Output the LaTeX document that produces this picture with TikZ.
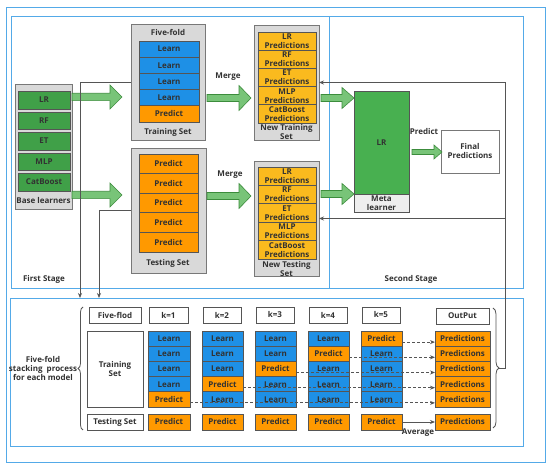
\documentclass[tikz,border=0pt]{standalone}
\usepackage{fontspec}
\setmainfont{Open Sans}
\usetikzlibrary{decorations.pathreplacing,arrows.meta}
\definecolor{frameblue}{RGB}{84,170,232}
\definecolor{lblue}{RGB}{30,144,230}
\definecolor{orng}{RGB}{255,153,0}
\definecolor{gold}{RGB}{250,186,30}
\definecolor{bgreen}{RGB}{64,160,72}
\definecolor{mgreen}{RGB}{72,176,80}
\definecolor{agreen}{RGB}{120,196,120}
\definecolor{agreenD}{RGB}{60,140,60}
\definecolor{boxgray}{RGB}{217,217,217}
\definecolor{edgegray}{RGB}{120,120,120}
\definecolor{metagray}{RGB}{238,238,238}
\definecolor{txt}{RGB}{50,50,50}
\definecolor{ln}{RGB}{85,85,85}
\newcommand\R[7]{\node[#1, minimum width={(#5)-(#3)}, minimum height={(#6)-(#4)}] (#2) at ({((#3)+(#5))/2},{((#4)+(#6))/2}) {#7};}
\newcommand\BA[6]{\filldraw[barrow] (#1,#3-#4) -- (#2-#6,#3-#4) -- (#2-#6,#3-#5) -- (#2,#3) -- (#2-#6,#3+#5) -- (#2-#6,#3+#4) -- (#1,#3+#4) -- cycle;}
\tikzset{
  every node/.style={font=\fontsize{8}{9}\selectfont\bfseries, text=txt, inner sep=0pt, outer sep=0pt, align=center},
  cell/.style={draw=ln, line width=0.7pt},
  learn/.style={cell, fill=lblue},
  pred/.style={cell, fill=orng},
  gpred/.style={cell, fill=gold},
  basecell/.style={cell, fill=bgreen},
  cont/.style={draw=edgegray, fill=boxgray, line width=0.9pt},
  wbox/.style={draw=ln, fill=white, line width=0.8pt},
  frame/.style={draw=frameblue, line width=1pt},
  barrow/.style={fill=agreen, draw=agreenD, line width=0.6pt},
  conn/.style={draw=ln, line width=0.9pt},
  conna/.style={conn, -{Stealth[length=5pt,width=4pt]}},
  dconn/.style={conn, dash pattern=on 3pt off 2pt, -{Stealth[length=5pt,width=4pt]}},
  brc/.style={draw=ln, line width=0.8pt, decorate, decoration={brace, amplitude=5pt}}
}
\begin{document}
\begin{tikzpicture}[x=1pt,y=-1pt]
\useasboundingbox[fill=white] (0,0) rectangle (550,470);
% frames
\draw[frame] (6,8) rectangle (545,463);
\draw[frame] (11,17) rectangle (523,289);
\draw[frame] (329,17) -- (329,289);
\draw[frame] (10,299) rectangle (523,447);
\node (fs) at (44,279) {First Stage};
\node (ss) at (411,279) {Second Stage};
% base learners
\R{cont}{base}{15}{84}{72}{209}{}
\R{basecell}{bLR}{18}{91}{70}{109}{LR}
\R{basecell}{bRF}{18}{112}{70}{129}{RF}
\R{basecell}{bET}{18}{132}{70}{150}{ET}
\R{basecell}{bMLP}{18}{153}{70}{170}{MLP}
\R{basecell}{bCB}{18}{173}{70}{191}{CatBoost}
\node (bl) at (43.5,201) {Base learners};
% training set
\R{cont}{trainbox}{131}{24}{205}{140}{}
\node (ff) at (168,32) {Five-fold};
\foreach \i in {1,...,4}{
  \pgfmathsetmacro\ya{41+(\i-1)*16.2}\pgfmathsetmacro\yb{41+\i*16.2}
  \R{learn}{tl\i}{139}{\ya}{199}{\yb}{Learn}
}
\R{pred}{tp}{139}{105.8}{199}{122}{Predict}
\node (trl) at (168,132) {Training Set};
% testing set
\R{cont}{testbox}{131}{148}{206}{273}{}
\foreach \i in {1,...,5}{
  \pgfmathsetmacro\ya{154+(\i-1)*19.6}\pgfmathsetmacro\yb{154+\i*19.6}
  \R{pred}{sp\i}{139}{\ya}{198}{\yb}{Predict}
}
\node (tsl) at (168,263) {Testing Set};
% new training set
\R{cont}{ntrain}{254}{25}{319}{140}{}
\foreach \i/\t in {1/LR,2/RF,3/ET,4/MLP,5/CatBoost}{
  \pgfmathsetmacro\ya{32+(\i-1)*18.2}\pgfmathsetmacro\yb{32+\i*18.2}
  \R{gpred}{np\i}{258}{\ya}{316}{\yb}{\t\\Predictions}
}
\node (ntl) at (286.5,132.5) {New Training\\Set};
% new testing set
\R{cont}{ntest}{254}{161}{319}{276}{}
\foreach \i/\t in {1/LR,2/RF,3/ET,4/MLP,5/CatBoost}{
  \pgfmathsetmacro\ya{167+(\i-1)*18.4}\pgfmathsetmacro\yb{167+\i*18.4}
  \R{gpred}{nq\i}{258}{\ya}{316}{\yb}{\t\\Predictions}
}
\node (nsl) at (286.5,269) {New Testing\\Set};
% meta learner
\R{cell, fill=metagray}{meta}{354}{91}{409}{212}{}
\R{cell, fill=mgreen}{metag}{354}{91}{409}{194}{LR}
\node (ml) at (381.5,203) {Meta\\learner};
\R{wbox, draw=edgegray}{final}{441}{130}{499}{173}{Final\\Predictions}
% block arrows
\BA{72}{122}{97}{3.7}{12}{12}
\BA{72}{122}{195}{3.7}{12}{12}
\BA{207}{251}{98}{3.5}{12.5}{12}
\BA{207}{251}{196}{3.5}{12.5}{12}
\BA{321}{354}{98}{3.5}{10.5}{12}
\BA{321}{354}{194}{3.5}{10.5}{12}
\BA{412}{442}{152}{2.5}{7}{8}
\node (mg1) at (228,77) {Merge};
\node (mg2) at (230,175) {Merge};
\node (prl) at (424,132) {Predict};
% bottom section
\R{wbox}{hff}{89}{307}{141}{323}{Five-flod}
\R{wbox}{trs}{87}{331}{143}{407}{Training\\Set}
\R{wbox}{tss}{87}{414}{143}{430}{Testing Set}
\foreach \k/\xa/\xb/\p in {1/148/190/5, 2/202/243/4, 3/255/296/3, 4/308/349/2, 5/361/402/1}{
  \foreach \r in {1,...,5}{
    \pgfmathsetmacro\ya{331+(\r-1)*15.2}\pgfmathsetmacro\yb{331+\r*15.2}
    \ifnum\r=\p\relax
      \R{pred}{c\k r\r}{\xa}{\ya}{\xb}{\yb}{Predict}
    \else
      \R{learn}{c\k r\r}{\xa}{\ya}{\xb}{\yb}{Learn}
    \fi
  }
  \R{pred}{t\k}{\xa}{414}{\xb}{430}{Predict}
  \R{wbox}{h\k}{\xa+1}{307}{\xb-2}{323}{k=\k}
}
\R{wbox}{hout}{436}{308}{489}{324}{OutPut}
\foreach \r in {1,...,5}{
  \pgfmathsetmacro\ya{331+(\r-1)*15.2}\pgfmathsetmacro\yb{331+\r*15.2}
  \R{pred}{o\r}{435}{\ya}{490}{\yb}{Predictions}
}
\R{pred}{ot}{435}{414}{490}{430}{Predictions}
\foreach \k/\p in {1/5,2/4,3/3,4/2,5/1}{
  \draw[dconn] ([yshift=-3.5pt]c\k r\p.east) -- ([yshift=-3.5pt]o\p.west);
}
\draw[conna] (t5.east) -- (ot.west);
\node (avg) at (418,433) {Average};
% braces
\draw[brc] (83,430) -- (83,307);
\node (stl) at (43,368.5) {Five-fold\\stacking\ \ process\\for each model};
\draw[brc, decoration={amplitude=6pt}] (493,308) -- (493,428);
\coordinate (otip) at (499,368);
\coordinate (fb) at (505,368);
% feedback connectors
\draw[conna] (otip) -- (fb) -- (fb |- ntrain.east) -- (ntrain.east);
\draw[conna] (fb |- ntest.east) -- (ntest.east);
\coordinate (dA) at (80,298);
\coordinate (dB) at (99,298);
\draw[conna] (trainbox.west) -| (dA);
\draw[conna] (testbox.west) -| (dB);
\end{tikzpicture}
\end{document}
